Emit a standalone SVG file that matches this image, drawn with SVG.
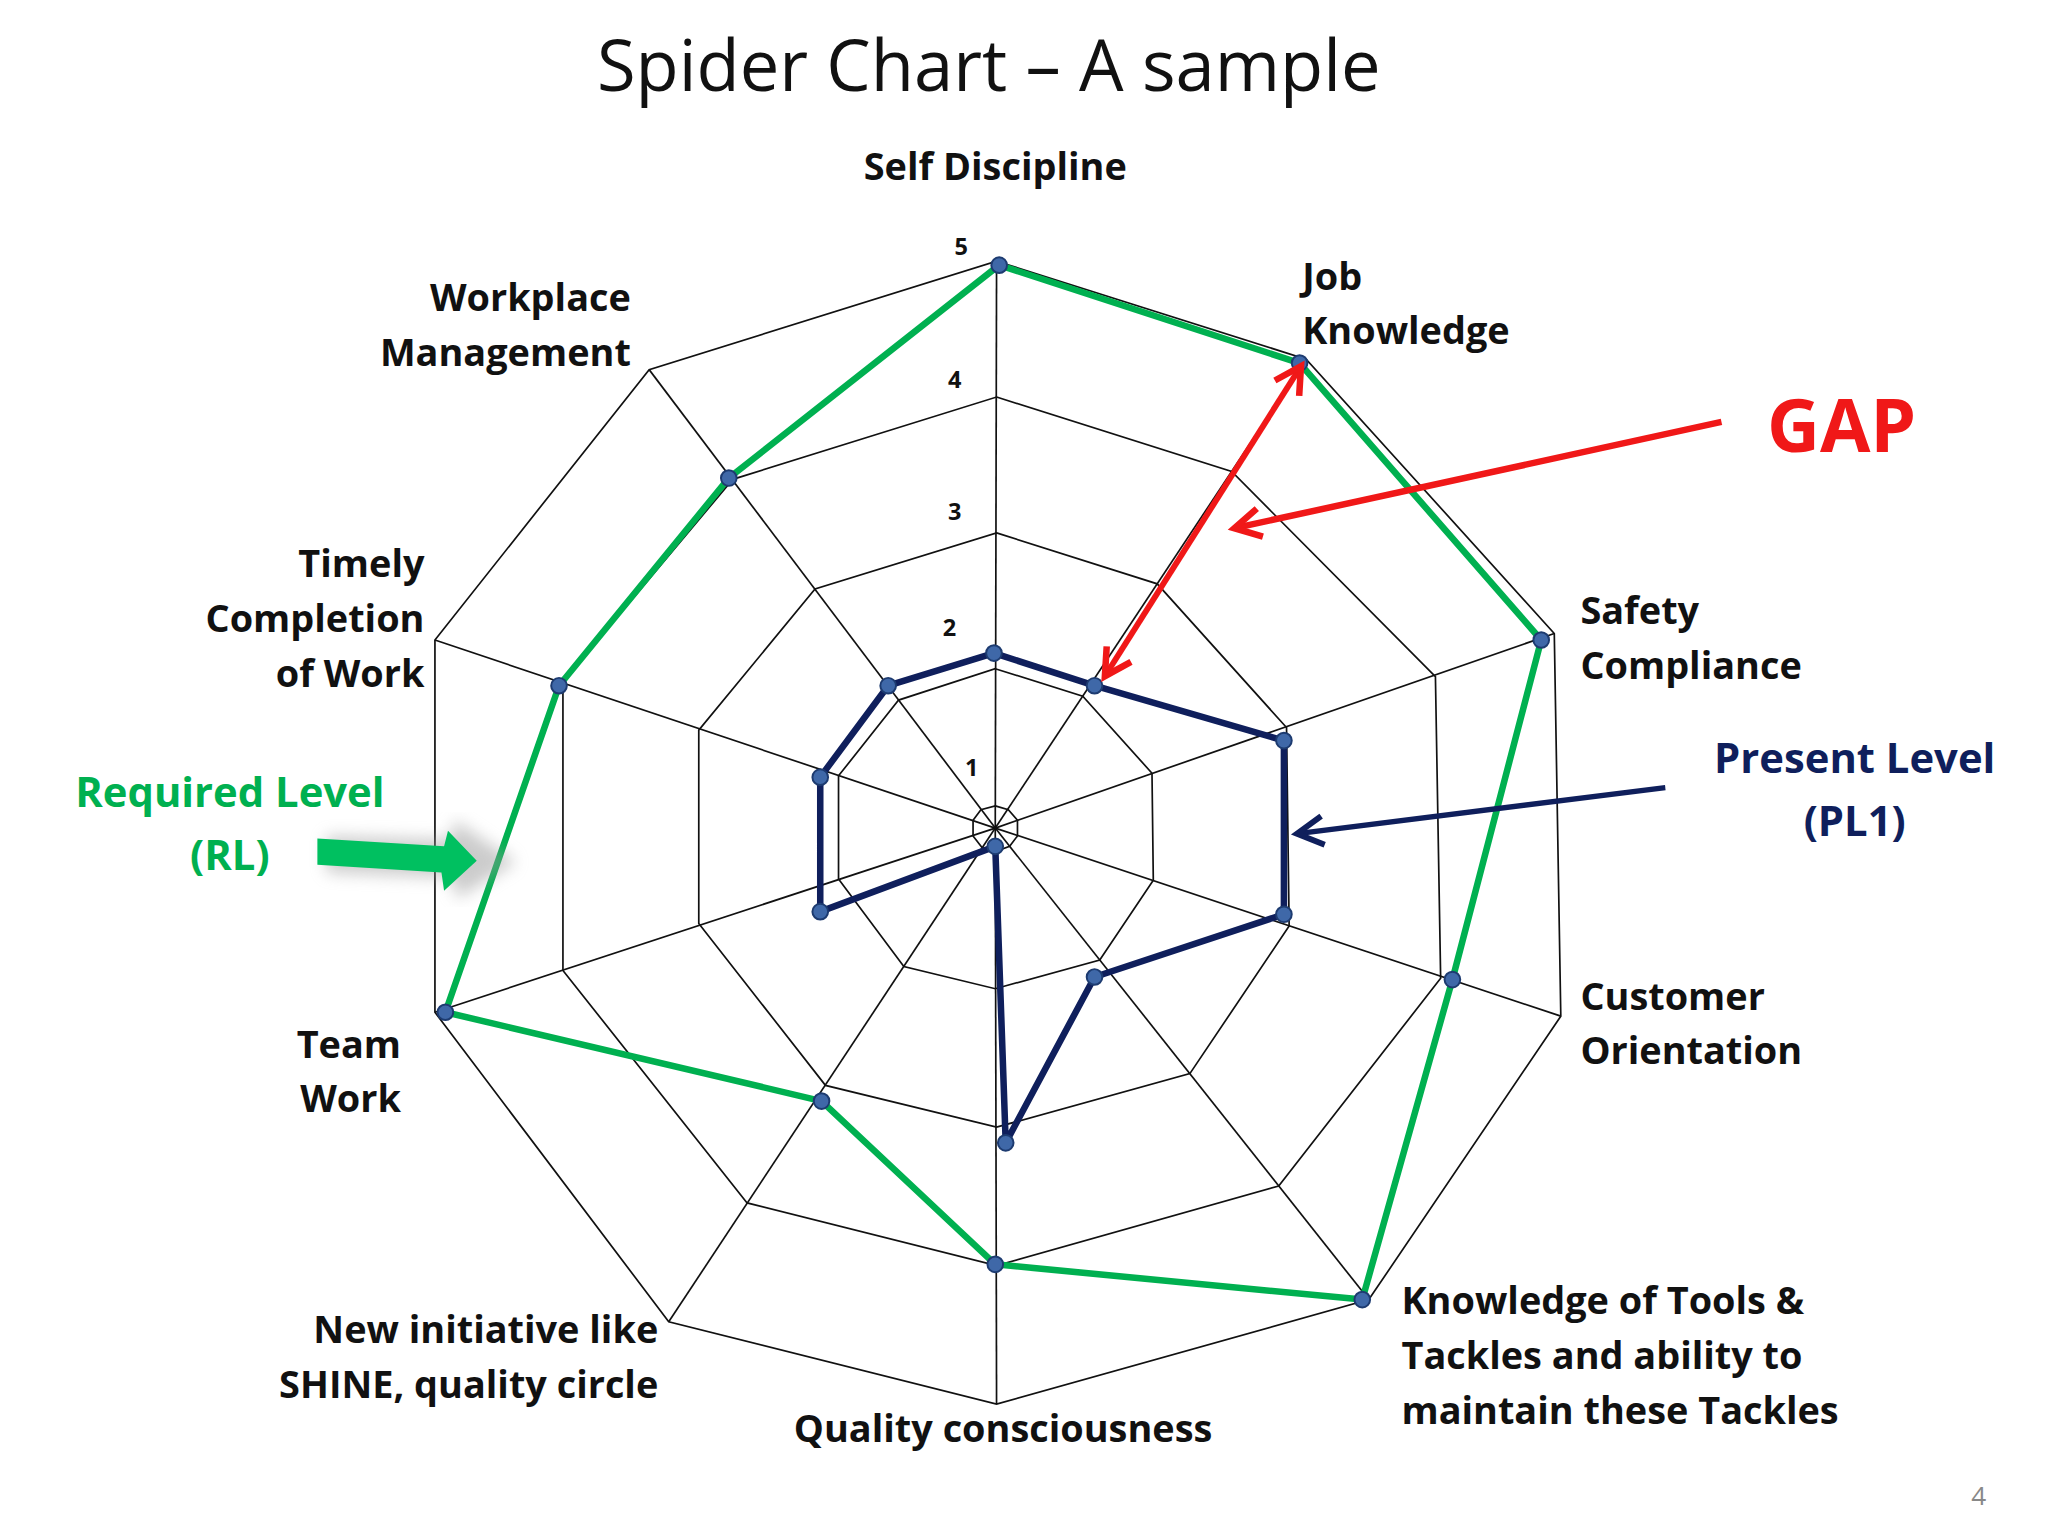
<svg xmlns="http://www.w3.org/2000/svg" width="2048" height="1536" viewBox="0 0 2048 1536">
<style>
.l{font-family:"Open Sans","Liberation Sans",sans-serif;font-weight:bold;font-size:29px;fill:#111}
.grid{fill:none;stroke:#111;stroke-width:1.3}
.n{font-family:"Open Sans","Liberation Sans",sans-serif;font-weight:bold;font-size:18px;fill:#111}
.dot{fill:#3f68a8;stroke:#1d3b70;stroke-width:1.5}
</style>
<defs>
<marker id="ra" markerWidth="30" markerHeight="30" refX="22" refY="15" orient="auto-start-reverse" markerUnits="userSpaceOnUse" viewBox="0 0 30 30"><path d="M4,4 L24,15 L4,26" fill="none" stroke="#f01818" stroke-width="5"/></marker>
<marker id="ba" markerWidth="30" markerHeight="30" refX="22" refY="15" orient="auto" markerUnits="userSpaceOnUse" viewBox="0 0 30 30"><path d="M4,4 L24,15 L4,26" fill="none" stroke="#0f1f5c" stroke-width="4.5"/></marker>
<filter id="bl"><feGaussianBlur stdDeviation="6"/></filter>
</defs>
<rect width="2048" height="1536" fill="#fff"/>
<g transform="scale(1.30612)">
<text x="757" y="70" text-anchor="middle" font-family="Open Sans, Liberation Sans, sans-serif" font-size="54" fill="#111">Spider Chart – A sample</text>
<g id="grid" class="grid">
<polygon points="763,200 1000,275 1190,485 1195,778 1048,995 763,1075 512,1012 333,775 333,490 497,283"/>
<polygon points="763,304 943,361 1099,518 1103,749 979,908 763,969 572,921 431,743 431,522 561,367"/>
<polygon points="763,408 886,447 985,557 987,709 911,822 763,863 632,831 535,707 535,559 624,451"/>
<polygon points="762,512 829,533 882,592 883,674 842,735 762,757 692,740 642,673 642,594 688,536"/>
<polygon points="762,617 772,620 779,628 779,640 773,648 762,652 752,649 745,640 745,628 751,620"/>
<line x1="762" y1="634" x2="763" y2="200"/><line x1="762" y1="634" x2="1000" y2="275"/><line x1="762" y1="634" x2="1190" y2="485"/><line x1="762" y1="634" x2="1195" y2="778"/><line x1="762" y1="634" x2="1048" y2="995"/><line x1="762" y1="634" x2="763" y2="1075"/><line x1="762" y1="634" x2="512" y2="1012"/><line x1="762" y1="634" x2="333" y2="775"/><line x1="762" y1="634" x2="333" y2="490"/><line x1="762" y1="634" x2="497" y2="283"/>
</g>
<g id="nums" class="n" text-anchor="middle">
<text x="736" y="195">5</text><text x="731" y="297">4</text><text x="731" y="398">3</text><text x="727" y="487">2</text><text x="744" y="594">1</text>
</g>
<g id="series">
<polygon points="765,203 995,278 1180,490 1112,750 1043,995 762,968 629,843 341,775 428,525 558,366" fill="none" stroke="#00b050" stroke-width="5" stroke-linejoin="round"/>
<polygon points="761,500 838,525 983,567 983,700 838,748 770,875 762,648 628,698 628,595 680,525" fill="none" stroke="#0f1f5c" stroke-width="5" stroke-linejoin="round"/>
<g>
<circle class="dot" cx="765" cy="203" r="6"/><circle class="dot" cx="995" cy="278" r="6"/><circle class="dot" cx="1180" cy="490" r="6"/><circle class="dot" cx="1112" cy="750" r="6"/><circle class="dot" cx="1043" cy="995" r="6"/><circle class="dot" cx="762" cy="968" r="6"/><circle class="dot" cx="629" cy="843" r="6"/><circle class="dot" cx="341" cy="775" r="6"/><circle class="dot" cx="428" cy="525" r="6"/><circle class="dot" cx="558" cy="366" r="6"/>
<circle class="dot" cx="761" cy="500" r="6"/><circle class="dot" cx="838" cy="525" r="6"/><circle class="dot" cx="983" cy="567" r="6"/><circle class="dot" cx="983" cy="700" r="6"/><circle class="dot" cx="838" cy="748" r="6"/><circle class="dot" cx="770" cy="875" r="6"/><circle class="dot" cx="762" cy="648" r="6"/><circle class="dot" cx="628" cy="698" r="6"/><circle class="dot" cx="628" cy="595" r="6"/><circle class="dot" cx="680" cy="525" r="6"/>
</g>
</g>
<g id="connectors">
<line x1="1318" y1="323" x2="947" y2="404" stroke="#f01818" stroke-width="5" marker-end="url(#ra)"/>
<line x1="995" y1="282" x2="847" y2="516" stroke="#f01818" stroke-width="4.5" marker-start="url(#ra)" marker-end="url(#ra)"/>
<line x1="1275" y1="603" x2="995" y2="638" stroke="#0f1f5c" stroke-width="4" marker-end="url(#ba)"/>
<polygon points="250,640 345,643 348,628 395,660 350,688 346,672 250,668" fill="#999" opacity="0.5" filter="url(#bl)"/>
<polygon points="243,642 340,648 343,636 365,659 340,682 338,668 243,662" fill="#00c060"/>
</g>
<g id="labels" class="l">
<text x="762" y="138" text-anchor="middle">Self Discipline</text>
<text x="997" y="222">Job</text><text x="997" y="263">Knowledge</text>
<text x="483" y="238" text-anchor="end">Workplace</text><text x="483" y="280" text-anchor="end">Management</text>
<text x="1210" y="478">Safety</text><text x="1210" y="520">Compliance</text>
<text x="325" y="442" text-anchor="end">Timely</text><text x="325" y="484" text-anchor="end">Completion</text><text x="325" y="526" text-anchor="end">of Work</text>
<text x="1210" y="773">Customer</text><text x="1210" y="815">Orientation</text>
<text x="307" y="810" text-anchor="end">Team</text><text x="307" y="851" text-anchor="end">Work</text>
<text x="1073" y="1006">Knowledge of Tools &amp;</text><text x="1073" y="1048">Tackles and ability to</text><text x="1073" y="1090">maintain these  Tackles</text>
<text x="504" y="1028" text-anchor="end">New initiative like</text><text x="504" y="1070" text-anchor="end">SHINE, quality circle</text>
<text x="768" y="1104" text-anchor="middle">Quality consciousness</text>
<text x="1410" y="346" text-anchor="middle" style="font-size:56px;fill:#f01818">GAP</text>
<text x="1420" y="592" text-anchor="middle" style="font-size:32px;fill:#0f1f5c">Present Level</text>
<text x="1420" y="640" text-anchor="middle" style="font-size:32px;fill:#0f1f5c">(PL1)</text>
<text x="176" y="618" text-anchor="middle" style="font-size:32px;fill:#00b050">Required Level</text>
<text x="176" y="666" text-anchor="middle" style="font-size:32px;fill:#00b050">(RL)</text>
</g>
<text x="1515" y="1152" text-anchor="middle" font-family="Open Sans, Liberation Sans, sans-serif" font-size="20" fill="#888">4</text>
</g>
</svg>
